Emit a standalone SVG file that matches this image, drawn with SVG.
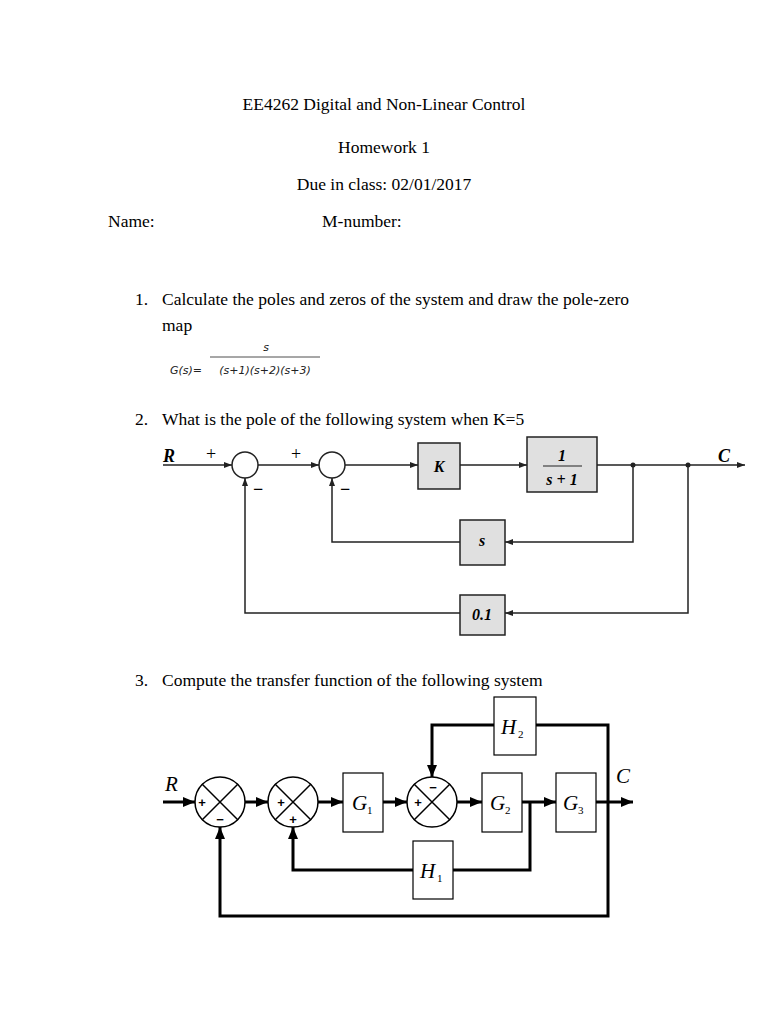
<svg xmlns="http://www.w3.org/2000/svg" width="768" height="1024" viewBox="0 0 768 1024">
<style>
.t{font-family:"Liberation Serif",serif;font-size:17.5px;fill:#000}
.f{font-family:"DejaVu Sans",sans-serif;font-size:11px;font-style:italic;fill:#222}
.l1{stroke:#222;stroke-width:1.5;fill:none}
.b1{fill:#e0e0e0;stroke:#222;stroke-width:1.5}
.bt{font-family:"Liberation Serif",serif;font-weight:bold;font-style:italic;font-size:16px;text-anchor:middle}
.l2{stroke:#000;stroke-width:3;fill:none}
.b2{fill:#fff;stroke:#000;stroke-width:1.2}
.it{font-family:"Liberation Serif",serif;font-style:italic;font-size:21px}
.sub{font-family:"Liberation Serif",serif;font-size:11px}
.sg{font-family:"Liberation Sans",sans-serif;font-size:13px;font-weight:bold}
</style>
<defs>
<marker id="a1" markerWidth="8" markerHeight="6" refX="8" refY="3" orient="auto" markerUnits="userSpaceOnUse"><path d="M0,0L8,3L0,6z" fill="#222"/></marker>
<marker id="a2" markerWidth="12" markerHeight="10" refX="12" refY="5" orient="auto" markerUnits="userSpaceOnUse"><path d="M0,0L12,5L0,10z" fill="#000"/></marker>
</defs>
<rect width="768" height="1024" fill="#fff"/>
<text class="t" x="384" y="110" text-anchor="middle">EE4262 Digital and Non-Linear Control</text>
<text class="t" x="384" y="153" text-anchor="middle">Homework 1</text>
<text class="t" x="384" y="190" text-anchor="middle">Due in class: 02/01/2017</text>
<text class="t" x="108" y="227">Name:</text>
<text class="t" x="322" y="227">M-number:</text>
<text class="t" x="135" y="305">1.</text>
<text class="t" x="162" y="305">Calculate the poles and zeros of the system and draw the pole-zero</text>
<text class="t" x="162" y="331">map</text>
<text class="f" x="170" y="374">G(s)=</text>
<text class="f" x="266" y="351" text-anchor="middle">s</text>
<line x1="210" y1="357" x2="320" y2="357" stroke="#222" stroke-width="0.8"/>
<text class="f" x="265" y="374" text-anchor="middle">(s+1)(s+2)(s+3)</text>
<text class="t" x="135" y="425">2.</text>
<text class="t" x="162" y="425">What is the pole of the following system when K=5</text>
<text class="t" x="135" y="686">3.</text>
<text class="t" x="162" y="686">Compute the transfer function of the following system</text>

<g id="connectors1">
<line class="l1" x1="163" y1="465" x2="232" y2="465" marker-end="url(#a1)"/>
<line class="l1" x1="258" y1="465" x2="319" y2="465" marker-end="url(#a1)"/>
<line class="l1" x1="345" y1="465" x2="418" y2="465" marker-end="url(#a1)"/>
<line class="l1" x1="460" y1="465" x2="527" y2="465" marker-end="url(#a1)"/>
<line class="l1" x1="597" y1="465" x2="745" y2="465" marker-end="url(#a1)"/>
<polyline class="l1" points="633,465 633,542 505,542" marker-end="url(#a1)"/>
<polyline class="l1" points="460,542 332,542 332,478" marker-end="url(#a1)"/>
<polyline class="l1" points="688,465 688,613 505,613" marker-end="url(#a1)"/>
<polyline class="l1" points="460,613 245,613 245,478" marker-end="url(#a1)"/>
<circle cx="633" cy="465" r="2.5" fill="#222"/>
<circle cx="688" cy="465" r="2.5" fill="#222"/>
</g>
<g id="d1-labels" font-family="Liberation Serif,serif" font-size="18" font-weight="bold">
<text x="163" y="462" font-style="italic">R</text>
<text x="718" y="462" font-style="italic">C</text>
<text x="206" y="460" font-weight="normal">+</text>
<text x="291" y="460" font-weight="normal">+</text>
<text x="253" y="495">−</text>
<text x="340" y="495">−</text>
</g>
<g id="sum1a"><circle class="l1" cx="245" cy="465" r="13" fill="#fff"/></g>
<g id="sum1b"><circle class="l1" cx="332" cy="465" r="13" fill="#fff"/></g>
<g id="K"><rect class="b1" x="418" y="443" width="42" height="46"/><text class="bt" x="439" y="472">K</text></g>
<g id="plant"><rect class="b1" x="527" y="437" width="70" height="55"/><text class="bt" x="562" y="461" font-style="normal">1</text><line x1="543" y1="466" x2="582" y2="466" stroke="#222" stroke-width="1.2"/><text class="bt" x="562" y="485">s + 1</text></g>
<g id="sbox"><rect class="b1" x="460" y="520" width="45" height="45"/><text class="bt" x="482" y="546" font-size="11">s</text></g>
<g id="gain"><rect class="b1" x="460" y="595" width="45" height="40"/><text class="bt" x="482" y="620" font-style="normal" font-size="14">0.1</text></g>

<g id="connectors2">
<line class="l2" x1="163" y1="802" x2="195" y2="802" marker-end="url(#a2)"/>
<line class="l2" x1="245" y1="802" x2="268" y2="802" marker-end="url(#a2)"/>
<line class="l2" x1="318" y1="802" x2="343" y2="802" marker-end="url(#a2)"/>
<line class="l2" x1="383" y1="802" x2="407" y2="802" marker-end="url(#a2)"/>
<line class="l2" x1="457" y1="802" x2="482" y2="802" marker-end="url(#a2)"/>
<line class="l2" x1="522" y1="802" x2="556" y2="802" marker-end="url(#a2)"/>
<line class="l2" x1="596" y1="802" x2="633" y2="802" marker-end="url(#a2)"/>
<polyline class="l2" points="494,725 432,725 432,777" marker-end="url(#a2)"/>
<polyline class="l2" points="608,802 608,725 536,725"/>
<polyline class="l2" points="530,802 530,870 453,870"/>
<polyline class="l2" points="413,870 293,870 293,827" marker-end="url(#a2)"/>
<polyline class="l2" points="608,802 608,916 220,916 220,827" marker-end="url(#a2)"/>
</g>
<g id="sumA"><circle cx="220" cy="802" r="25" fill="#fff" stroke="#000" stroke-width="1.5"/><path d="M202,784L238,820M238,784L202,820" stroke="#000" stroke-width="1.5"/><text class="sg" x="202" y="807" text-anchor="middle">+</text><text class="sg" x="220" y="824" text-anchor="middle">−</text></g>
<g id="sumB"><circle cx="293" cy="802" r="25" fill="#fff" stroke="#000" stroke-width="1.5"/><path d="M275,784L311,820M311,784L275,820" stroke="#000" stroke-width="1.5"/><text class="sg" x="281" y="807" text-anchor="middle">+</text><text class="sg" x="293" y="824" text-anchor="middle">+</text></g>
<g id="sumC"><circle cx="432" cy="802" r="25" fill="#fff" stroke="#000" stroke-width="1.5"/><path d="M414,784L450,820M450,784L414,820" stroke="#000" stroke-width="1.5"/><text class="sg" x="418" y="807" text-anchor="middle">+</text><text class="sg" x="433" y="792" text-anchor="middle">−</text></g>
<g id="G1"><rect class="b2" x="343" y="773" width="40" height="59"/><text class="it" x="352" y="810">G</text><text class="sub" x="367" y="814">1</text></g>
<g id="G2"><rect class="b2" x="482" y="773" width="40" height="59"/><text class="it" x="490" y="810">G</text><text class="sub" x="505" y="814">2</text></g>
<g id="G3"><rect class="b2" x="556" y="773" width="40" height="59"/><text class="it" x="563" y="810">G</text><text class="sub" x="578" y="814">3</text></g>
<g id="H2"><rect class="b2" x="494" y="697" width="42" height="58"/><text class="it" x="501" y="734">H</text><text class="sub" x="518" y="738">2</text></g>
<g id="H1"><rect class="b2" x="413" y="841" width="40" height="58"/><text class="it" x="420" y="878">H</text><text class="sub" x="437" y="882">1</text></g>
<text class="it" x="165" y="791">R</text>
<text class="it" x="616" y="783">C</text>
</svg>
